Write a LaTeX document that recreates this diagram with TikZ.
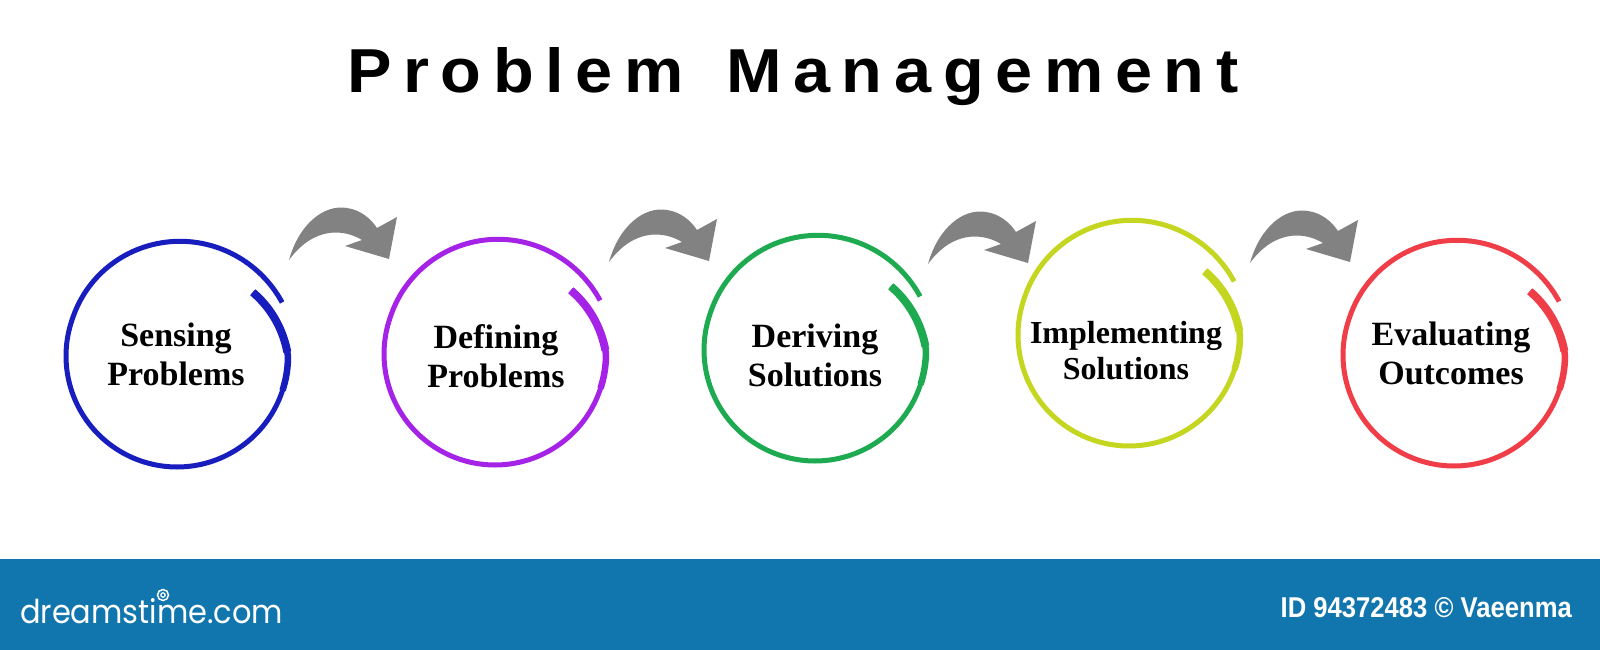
\documentclass[tikz,border=0pt]{standalone}
\usepackage{fontspec}
\setmainfont{Liberation Serif}
\newfontfamily\titlefont{Liberation Sans}
\newfontfamily\bannerfont{Poppins}
\newfontfamily\idfont{Liberation Sans}
\definecolor{cblue}{RGB}{24,30,190}
\definecolor{cpurple}{RGB}{165,35,230}
\definecolor{cgreen}{RGB}{30,170,80}
\definecolor{cyellow}{RGB}{196,214,32}
\definecolor{cred}{RGB}{240,62,72}
\definecolor{arrowgray}{RGB}{130,130,130}
\definecolor{bannerblue}{RGB}{16,118,173}
\newcommand\lsp{\hspace{0.175em}}
\tikzset{
  steplabel/.style={font=\bfseries\fontsize{34}{39}\selectfont, align=center, text=black, inner sep=0pt},
  ring/.style={line width=5pt, line cap=butt, line join=round},
  pics/handcircle/.style={code={
    \begin{scope}[yscale=-1]
      \draw[ring, draw=#1] plot[smooth, samples=90, domain=0:373, variable=\t]
        ({40-\t}:{111-12*max(40-\t,0)/40+7*max(\t-240,0)/133});
      \draw[line width=6.5pt, draw=#1] plot[smooth, samples=25, domain=0:58, variable=\t]
        ({40-\t}:{111-12*max(40-\t,0)/40});
      \draw[line width=8pt, draw=#1] plot[smooth, samples=20, domain=0:38, variable=\t]
        ({40-\t}:{111-12*max(40-\t,0)/40});
    \end{scope}
  }},
  pics/swoosh/.style={code={
    \fill[arrowgray] (0,0) .. controls (10,-36) and (35,-56) .. (58,-52)
      .. controls (72,-50) and (82,-41) .. (88,-32) -- (108,-43) -- (100,-1)
      -- (56,-14) -- (73,-20) .. controls (55,-31) and (25,-34) .. (0,0) -- cycle;
  }}
}
\begin{document}
\begin{tikzpicture}[x=1pt,y=-1pt]
\useasboundingbox (0,0) rectangle (1600,650);
\fill[white] (0,0) rectangle (1600,650);

% title
\node[anchor=base west, inner sep=0pt] (title) at (347,93)
  {\resizebox{891pt}{45pt}{\titlefont\bfseries P\lsp r\lsp o\lsp b\lsp l\lsp e\lsp m\hspace{0.63em}M\lsp a\lsp n\lsp a\lsp g\lsp e\lsp m\lsp e\lsp n\lsp t}};

% circle centres
\coordinate (c1) at (177,356);
\coordinate (c2) at (495,354);
\coordinate (c3) at (815,350);
\coordinate (c4) at (1129,335);
\coordinate (c5) at (1454,355);

\pic at (c1) {handcircle=cblue};
\pic at (c2) {handcircle=cpurple};
\pic at (c3) {handcircle=cgreen};
\pic at (c4) {handcircle=cyellow};
\pic at (c5) {handcircle=cred};

\node[steplabel] (l1) at (176,354) {Sensing\\Problems};
\node[steplabel] (l2) at (496,356) {Defining\\Problems};
\node[steplabel] (l3) at (815,355) {Deriving\\Solutions};
\node[steplabel, font=\bfseries\fontsize{32}{36}\selectfont] (l4) at (1126,351) {Implementing\\Solutions};
\node[steplabel] (l5) at (1451,353) {Evaluating\\Outcomes};

% arrows
\coordinate (a1) at (289,260);
\coordinate (a2) at (609,262);
\coordinate (a3) at (928,264);
\coordinate (a4) at (1250,263);
\pic at (a1) {swoosh};
\pic at (a2) {swoosh};
\pic at (a3) {swoosh};
\pic at (a4) {swoosh};

% banner
\fill[bannerblue] (0,559) rectangle (1600,650);
\node[anchor=base west, inner sep=0pt, text=white] (dt) at (20,623)
  {\resizebox{263pt}{25pt}{\bannerfont dreamstime.com}};
\draw[white, line width=1.5pt] (163,595) circle (5.5);
\draw[white, line width=1.2pt] (163,595) circle (2.2);
\node[anchor=base east, inner sep=0pt, text=white] (id) at (1572,617)
  {\resizebox{291pt}{20pt}{\idfont\bfseries ID 94372483 © Vaeenma}};
\end{tikzpicture}
\end{document}
